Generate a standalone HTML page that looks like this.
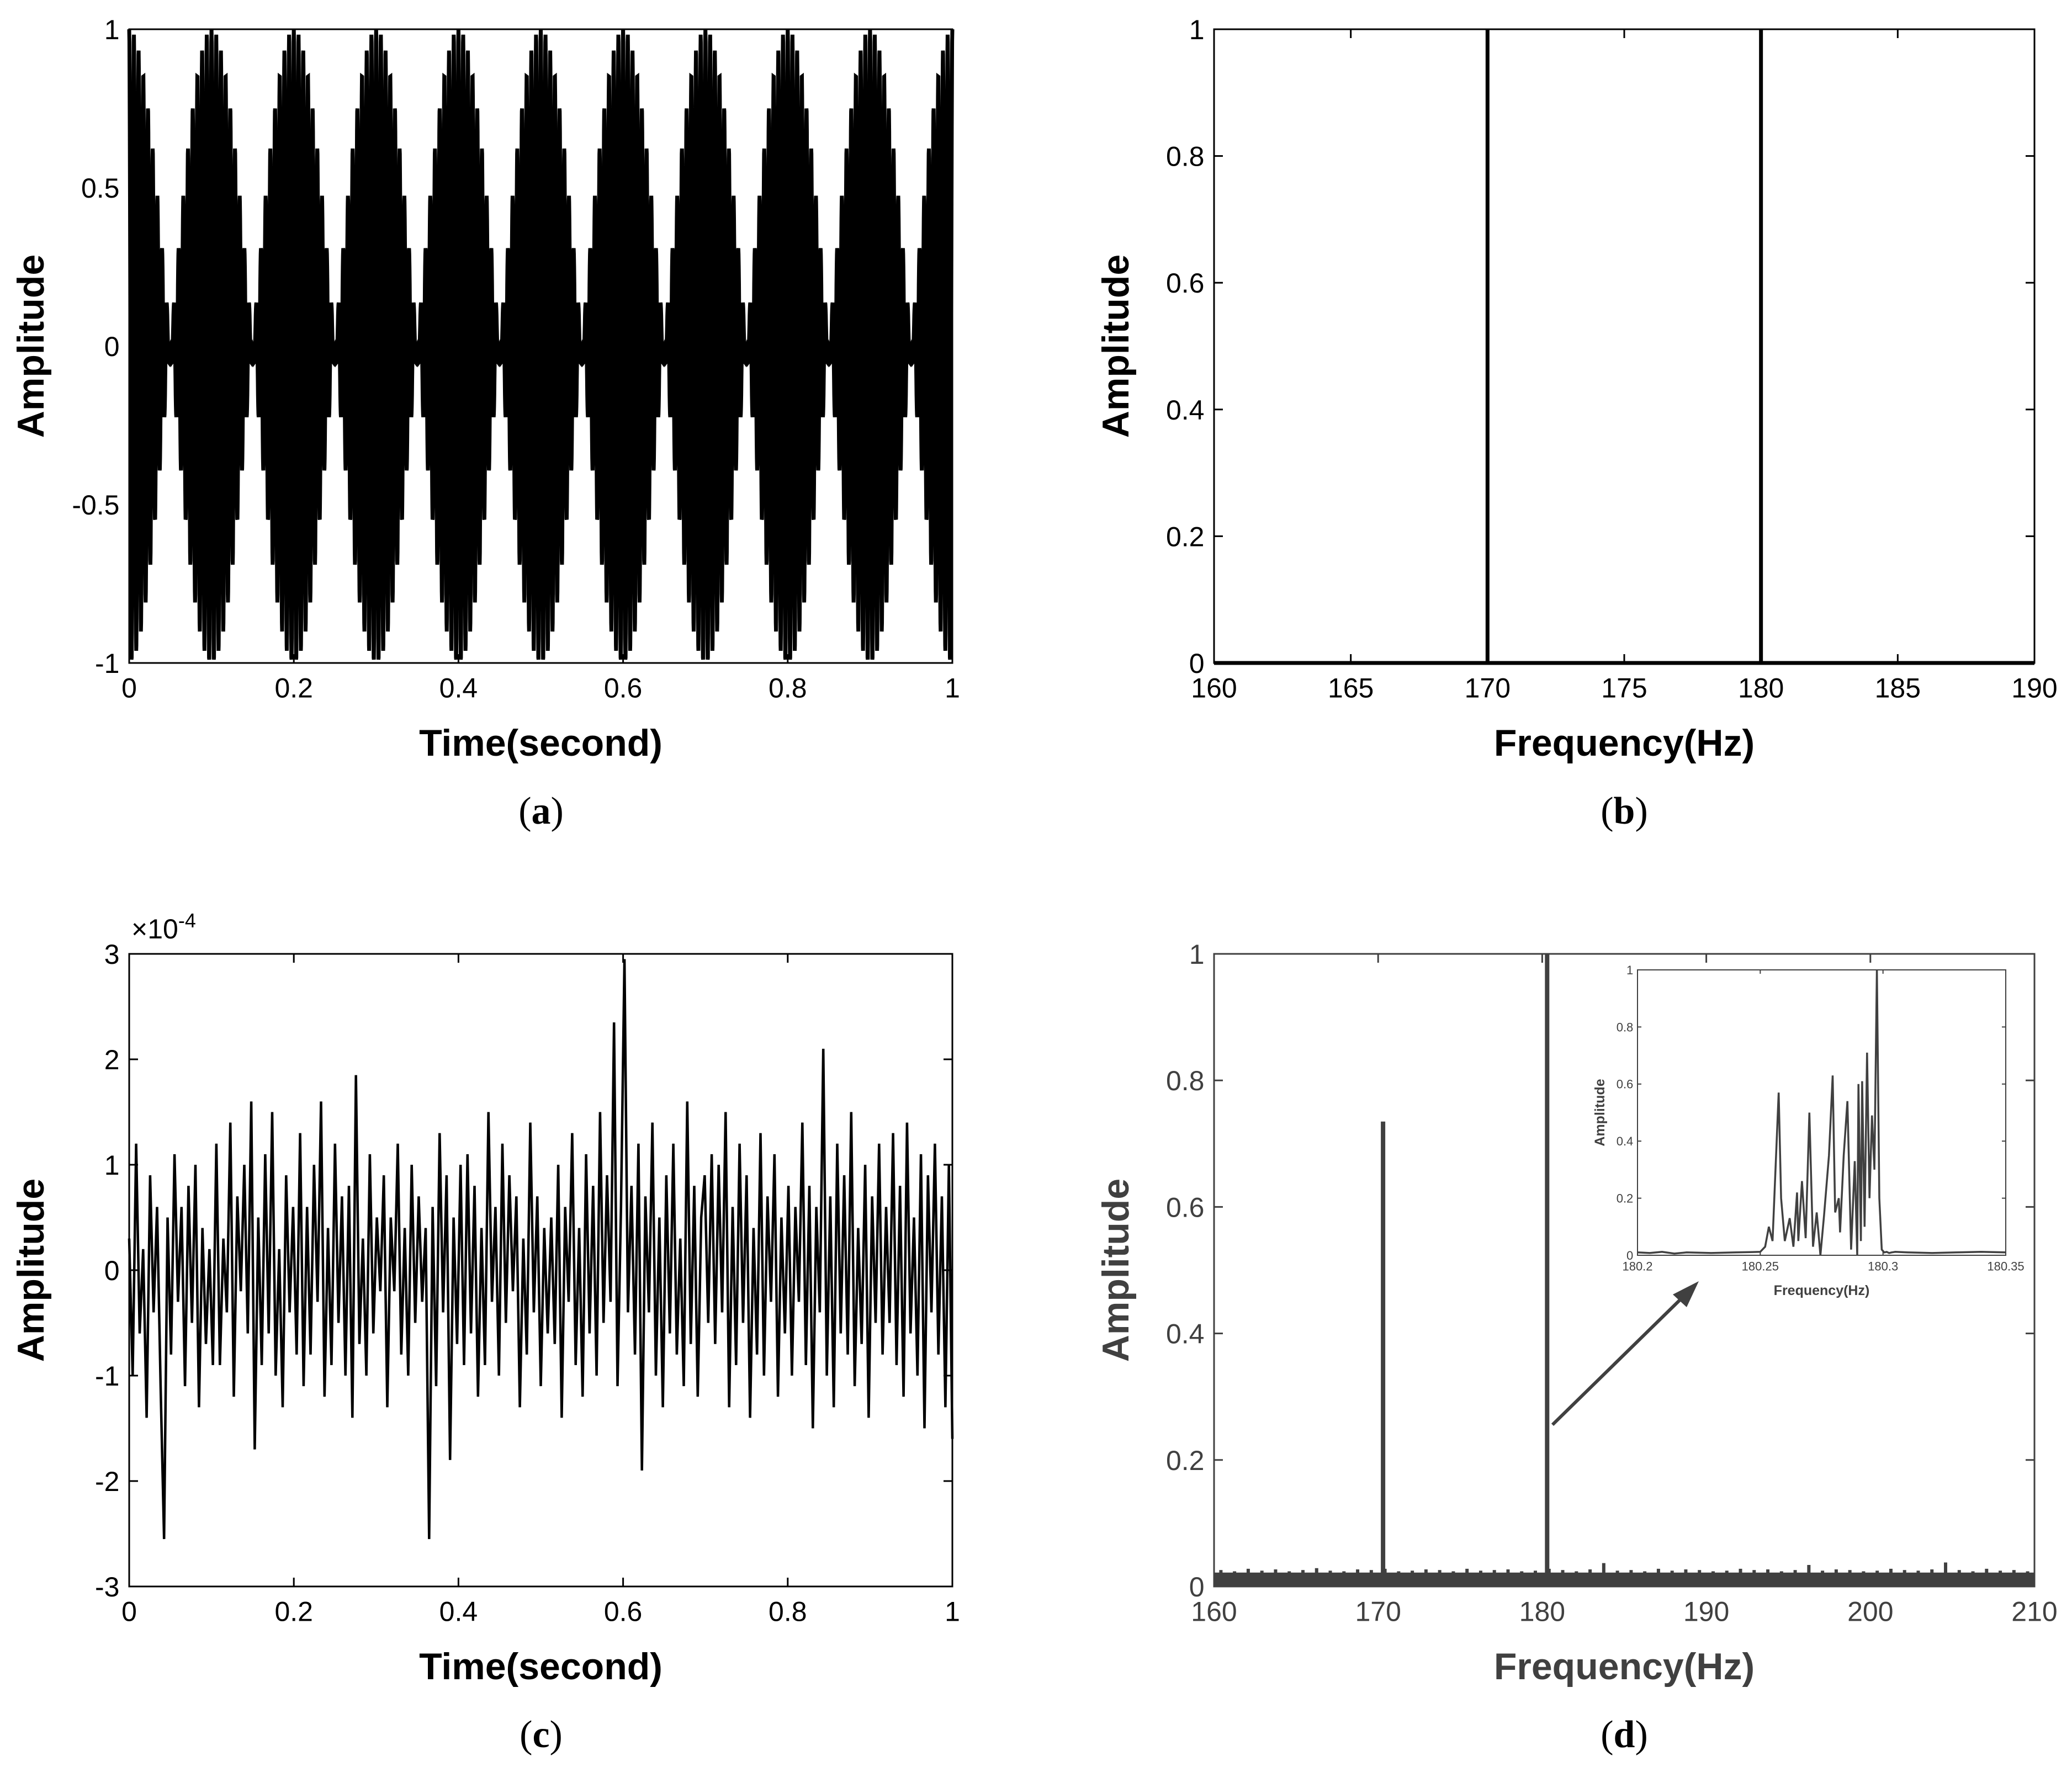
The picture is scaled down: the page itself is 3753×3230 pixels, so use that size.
<!DOCTYPE html>
<html><head><meta charset="utf-8">
<style>
html,body{margin:0;padding:0;background:#fff;}
svg{display:block;}
text{font-family:"Liberation Sans",Arial,sans-serif;}
.cap{font-family:"Liberation Serif","DejaVu Serif",serif;}
</style></head>
<body>
<svg id="fig" width="3753" height="3230" viewBox="0 0 3753 3230" xmlns="http://www.w3.org/2000/svg">
<rect width="3753" height="3230" fill="#fff"/>
</svg>
<script>
// ---- data ----
const sigFreqs=[170,180];
const sigAmps=[0.5,0.5];
const aXTicks=[0,0.2,0.4,0.6,0.8,1];
const aYTicks=[-1,-0.5,0,0.5,1];
const bXTicks=[160,165,170,175,180,185,190];
const bYTicks=[0,0.2,0.4,0.6,0.8,1];
const bPeakFreqs=[170,180];
const bPeakAmps=[1,1];
const cYTicks=[-3,-2,-1,0,1,2,3];
const cValues=[0.3,-1.0,1.2,-0.6,0.2,-1.4,0.9,-0.4,0.6,-1.1,-2.55,0.5,-0.8,1.1,-0.3,0.6,-1.1,0.8,-0.5,1.0,-1.3,0.4,-0.7,0.2,-0.9,
1.2,-0.9,0.3,-0.4,1.4,-1.2,0.7,-0.2,1.0,-0.6,1.6,-1.7,0.5,-0.9,1.1,-0.6,1.5,-1.0,0.2,-1.3,0.9,-0.4,0.6,-0.8,
1.3,-1.1,0.6,-0.8,1.0,-0.3,1.6,-1.2,0.4,-0.9,1.2,-0.5,0.7,-1.0,0.8,-1.4,1.85,-0.7,0.3,-1.0,1.1,-0.6,0.5,-0.2,
0.9,-1.3,0.5,-0.2,1.2,-0.8,0.4,-1.0,1.0,-0.5,0.7,-0.3,0.4,-2.55,0.6,-1.1,1.3,-0.4,0.9,-1.8,0.5,-0.7,1.0,-0.9,
1.1,-0.6,0.8,-1.2,0.4,-0.9,1.5,-0.3,0.6,-1.0,1.2,-0.5,0.9,-0.2,0.7,-1.3,0.3,-0.8,1.4,-0.4,0.7,-1.1,0.4,-0.6,
0.5,-0.7,1.0,-1.4,0.6,-0.3,1.3,-0.9,0.4,-1.2,1.1,-0.6,0.8,-1.0,1.5,-0.5,0.9,-0.3,2.35,-1.1,0.6,2.95,-0.4,0.8,
-0.8,1.2,-1.9,0.7,-0.4,1.4,-1.0,0.5,-1.3,0.9,-0.6,1.2,-0.8,0.3,-1.1,1.6,-0.7,0.8,-1.2,0.5,0.9,-0.5,1.1,-0.7,
1.0,-0.4,1.5,-1.3,0.6,-0.9,1.2,-0.5,0.9,-1.4,0.4,-0.8,1.3,-1.0,0.7,-0.3,1.1,-1.2,0.5,-0.6,0.8,-1.0,0.6,-0.3,
1.4,-0.9,0.8,-1.5,0.6,-0.4,2.1,-1.0,0.7,-1.3,1.2,-0.6,0.9,-0.8,1.5,-1.1,0.4,-0.7,1.0,-1.4,0.7,-0.5,1.2,-0.8,
0.6,-0.5,1.3,-0.9,0.8,-1.2,1.4,-0.6,0.5,-1.0,1.1,-1.5,0.9,-0.4,1.2,-0.8,0.7,-1.3,1.0,-1.6];
const dXTicks=[160,170,180,190,200,210];
const dYTicks=[0,0.2,0.4,0.6,0.8,1];
const dPeakFreqs=[170.3,180.3];
const dPeakAmps=[0.735,1.0];
const dFloor=[0.026,0.024,0.028,0.025,0.027,0.024,0.026,0.029,0.025,0.024,0.027,0.026,0.028,0.024,0.025,0.027,0.026,0.024,0.028,0.025,
0.026,0.027,0.024,0.025,0.028,0.026,0.024,0.027,0.037,0.025,0.026,0.024,0.028,0.025,0.027,0.026,0.024,0.025,0.028,0.026,
0.027,0.024,0.026,0.034,0.025,0.027,0.026,0.024,0.025,0.028,0.026,0.025,0.027,0.038,0.026,0.024,0.028,0.025,0.026,0.024];
const inXTicks=[180.2,180.25,180.3,180.35];
const inYTicks=[0,0.2,0.4,0.6,0.8,1];
const inFreqs=[180.2,180.205,180.21,180.215,180.22,180.23,180.24,180.25,180.252,180.2535,180.255,180.2575,180.2585,180.26,180.262,180.2635,180.265,180.2655,180.267,180.2685,180.27,180.2715,180.273,180.2745,180.276,180.278,180.2795,180.2805,180.282,180.2825,180.284,180.2855,180.287,180.2885,180.2895,180.29,180.291,180.2915,180.2925,180.2935,180.2945,180.2955,180.2965,180.2975,180.2985,180.2995,180.3005,180.3015,180.3025,180.3035,180.305,180.31,180.32,180.33,180.34,180.35];
const inAmps=[0.01,0.008,0.012,0.006,0.01,0.008,0.01,0.012,0.03,0.1,0.05,0.57,0.2,0.05,0.13,0.03,0.22,0.05,0.26,0.06,0.5,0.03,0.15,0.0,0.14,0.35,0.63,0.15,0.2,0.08,0.35,0.54,0.02,0.33,0.0,0.6,0.05,0.61,0.1,0.71,0.2,0.49,0.3,1.0,0.2,0.02,0.01,0.012,0.008,0.01,0.012,0.01,0.008,0.01,0.012,0.01];

// ---- helpers ----
const NS="http://www.w3.org/2000/svg";
const svg=document.getElementById('fig');
function mk(tag,attrs,parent){const e=document.createElementNS(NS,tag);for(const k in attrs)e.setAttribute(k,attrs[k]);(parent||svg).appendChild(e);return e;}
function scale(d0,d1,r0,r1){return v=>r0+(v-d0)/(d1-d0)*(r1-r0);}

function axes(o){
  const g=mk('g',{});
  
  
  const X=scale(o.xd[0],o.xd[1],o.L,o.R), Y=scale(o.yd[0],o.yd[1],o.B,o.T);
  const col=o.col, tl=o.tl||16;
  o.xt.forEach(v=>{const x=X(v);
    mk('line',{x1:x,y1:o.B,x2:x,y2:o.B-tl,stroke:col,'stroke-width':o.sw},g);
    mk('line',{x1:x,y1:o.T,x2:x,y2:o.T+tl,stroke:col,'stroke-width':o.sw},g);
    const t=mk('text',{x:x,y:o.B+o.fs*1.25,'font-size':o.fs,fill:col,'text-anchor':'middle'},g);t.textContent=v;
    
    
  });
  o.yt.forEach(v=>{const y=Y(v);
    mk('line',{x1:o.L,y1:y,x2:o.L+tl,y2:y,stroke:col,'stroke-width':o.sw},g);
    mk('line',{x1:o.R,y1:y,x2:o.R-tl,y2:y,stroke:col,'stroke-width':o.sw},g);
    const t=mk('text',{x:o.L-o.fs*0.35,y:y+o.fs*0.36,'font-size':o.fs,fill:col,'text-anchor':'end'},g);t.textContent=v;
    
    
  });
  const xl=mk('text',{x:(o.L+o.R)/2,y:o.B+o.xlOff,'font-size':o.lfs,'font-weight':'bold',fill:col,'text-anchor':'middle'},g);xl.textContent=o.xl;
  
  
  const yx=o.L-o.ylOff, yy=(o.T+o.B)/2;
  const yl=mk('text',{x:yx,y:yy,'font-size':o.lfs,'font-weight':'bold',fill:col,'text-anchor':'middle',transform:`rotate(-90 ${yx} ${yy})`},g);yl.textContent=o.yl;
  
  
  return {g,X,Y,frame:()=>mk('rect',{x:o.L,y:o.T,width:o.R-o.L,height:o.B-o.T,fill:'none',stroke:col,'stroke-width':o.sw},g)};
}
function caption(txt,x,y,name){const t=mk('text',{x:x,y:y,'font-size':70,'text-anchor':'middle',class:'cap',fill:'#000'});
  t.innerHTML='('+'<tspan font-weight="bold">'+txt+'</tspan>)';
  
  }

// ---- panel a ----
{const A=axes({name:'panel-a',L:234,R:1725,T:53,B:1201,xd:[0,1],yd:[-1,1],xt:aXTicks,yt:aYTicks,col:'#000',sw:3,fs:50,lfs:68,xl:'Time(second)',yl:'Amplitude',xlOff:168,ylOff:155});
 let pts=[];const N=4000;
 for(let i=0;i<=N;i++){const t=i/N;let v=0;for(let k=0;k<sigFreqs.length;k++)v+=sigAmps[k]*Math.cos(2*Math.PI*sigFreqs[k]*t);pts.push(A.X(t).toFixed(1)+','+A.Y(v).toFixed(1));}
 const p=mk('polyline',{points:pts.join(' '),fill:'none',stroke:'#000','stroke-width':7,'stroke-linejoin':'miter'},A.g);
 
 
 A.frame();caption('a',980,1492,'caption-a');}

// ---- panel b ----
{const A=axes({name:'panel-b',L:2199,R:3685,T:53,B:1201,xd:[160,190],yd:[0,1],xt:bXTicks,yt:bYTicks,col:'#000',sw:3,fs:50,lfs:68,xl:'Frequency(Hz)',yl:'Amplitude',xlOff:168,ylOff:155});
 const b=mk('line',{x1:A.X(160),y1:A.Y(0),x2:A.X(190),y2:A.Y(0),stroke:'#000','stroke-width':7},A.g);
 
 
 bPeakFreqs.forEach((f,i)=>{const l=mk('line',{x1:A.X(f),y1:A.Y(0),x2:A.X(f),y2:A.Y(bPeakAmps[i]),stroke:'#000','stroke-width':7},A.g);
  
  });
 A.frame();caption('b',2942,1492,'caption-b');}

// ---- panel c ----
{const A=axes({name:'panel-c',L:234,R:1725,T:1728,B:2874,xd:[0,1],yd:[-3,3],xt:aXTicks,yt:cYTicks,col:'#000',sw:3,fs:50,lfs:68,xl:'Time(second)',yl:'Amplitude',xlOff:168,ylOff:155});
 const pts=cValues.map((v,i)=>A.X(i/(cValues.length-1)).toFixed(1)+','+A.Y(v).toFixed(1));
 const p=mk('polyline',{points:pts.join(' '),fill:'none',stroke:'#000','stroke-width':4.5},A.g);
 
 
 const e=mk('text',{x:238,y:1700,'font-size':50,fill:'#000'},A.g);
 e.innerHTML='×10<tspan dy="-20" font-size="36">-4</tspan>';
 
 
 A.frame();caption('c',980,3165,'caption-c');}

// ---- panel d ----
{const col='#404040';
 const A=axes({name:'panel-d',L:2199,R:3685,T:1728,B:2874,xd:[160,210],yd:[0,1],xt:dXTicks,yt:dYTicks,col:col,sw:3,fs:50,lfs:68,xl:'Frequency(Hz)',yl:'Amplitude',xlOff:168,ylOff:155});
 const band=mk('rect',{x:A.X(160),y:A.Y(0.022),width:A.X(210)-A.X(160),height:A.Y(0.0)-A.Y(0.022),fill:col},A.g);
 
 
 dFloor.forEach((v,i)=>{const f=160+(i+0.5)*50/dFloor.length;const l=mk('line',{x1:A.X(f),y1:A.Y(0.002),x2:A.X(f),y2:A.Y(v),stroke:col,'stroke-width':6},A.g);
  
  });
 dPeakFreqs.forEach((f,i)=>{const l=mk('line',{x1:A.X(f),y1:A.Y(0),x2:A.X(f),y2:A.Y(dPeakAmps[i]),stroke:col,'stroke-width':8},A.g);
  
  });
 A.frame();
 const ar=mk('g',{},A.g);
 
 
 mk('line',{x1:2812,y1:2581,x2:3055,y2:2343,stroke:col,'stroke-width':6},ar);
 mk('polygon',{points:'3077,2321 3030,2345 3055,2368',fill:col},ar);
 const I=axes({name:'inset-zoom',L:2966,R:3633,T:1757,B:2274,xd:[180.2,180.35],yd:[0,1],xt:inXTicks,yt:inYTicks,col:col,sw:2,fs:22,lfs:25,tl:7,xl:'Frequency(Hz)',yl:'Amplitude',xlOff:72,ylOff:60});
 mk('rect',{x:2966,y:1757,width:667,height:517,fill:'#fff'},I.g);
 I.g.insertBefore(I.g.lastChild,I.g.firstChild);
 const pts=inFreqs.map((f,i)=>I.X(f).toFixed(1)+','+I.Y(inAmps[i]).toFixed(1));
 const p=mk('polyline',{points:pts.join(' '),fill:'none',stroke:col,'stroke-width':3.5},I.g);
 
 
 I.frame();
 caption('d',2942,3165,'caption-d');}
</script>
</body></html>
